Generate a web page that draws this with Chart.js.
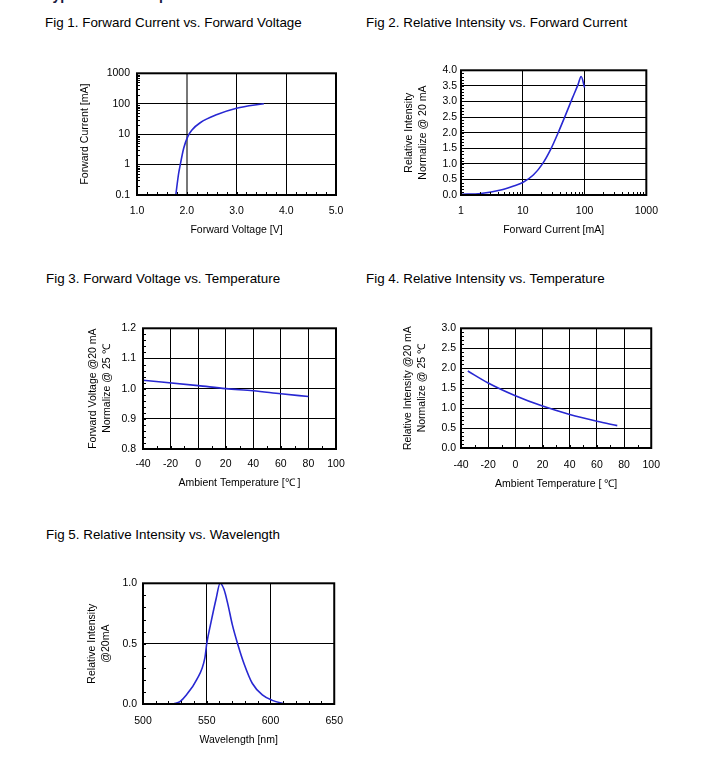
<html>
<head>
<style>
    body { margin: 0; background: #fff; font-family: Arial, "Liberation Sans", sans-serif; }
    .fig { position: absolute; font-size: 13.4px; line-height: 16px; color: #000; white-space: nowrap; }
    canvas { position: absolute; }
</style>
</head>

<body>
    <div class="fig" style="left:45px;top:-13px;font-weight:bold;font-size:14px;color:#1a1a40">Typical Electro-Optical Characteristics Curves</div>
    <div class="fig" style="left:45px;top:15px">Fig 1. Forward Current vs. Forward Voltage</div>
    <div class="fig" style="left:366px;top:15px">Fig 2. Relative Intensity vs. Forward Current</div>
    <div class="fig" style="left:46px;top:271px">Fig 3. Forward Voltage vs. Temperature</div>
    <div class="fig" style="left:366px;top:271px">Fig 4. Relative Intensity vs. Temperature</div>
    <div class="fig" style="left:46px;top:527px">Fig 5. Relative Intensity vs. Wavelength</div>

    <canvas id="c1"></canvas>
    <canvas id="c2"></canvas>
    <canvas id="c3"></canvas>
    <canvas id="c4"></canvas>
    <canvas id="c5"></canvas>

    <script src="https://cdn.jsdelivr.net/npm/chart.js"></script>
    <script>
        // Fig 1: forward current vs forward voltage
        const fig1Voltage = [1.78, 1.835, 1.87, 1.94, 2.02, 2.10, 2.27, 2.61, 3.0, 3.55];
        const fig1Current = [0.1, 0.49, 1, 3.5, 8.3, 13.5, 23.7, 44, 71, 100];
        const fig1XTicks = [1, 2, 3, 4, 5];
        const fig1XLabels = ['1.0', '2.0', '3.0', '4.0', '5.0'];
        const fig1YTicks = [0.1, 1, 10, 100, 1000];
        const fig1YLabels = ['0.1', '1', '10', '100', '1000'];

        // Fig 2: relative intensity vs forward current
        const fig2Current = [1, 2.1, 4.4, 7.1, 10, 14.8, 20.7, 28.7, 38, 48.4, 63, 78.7, 88, 100];
        const fig2Intensity = [0.02, 0.05, 0.16, 0.29, 0.40, 0.64, 0.99, 1.49, 2.03, 2.53, 3.09, 3.55, 3.8, 3.45];
        const fig2XTicks = [1, 10, 100, 1000];
        const fig2XLabels = ['1', '10', '100', '1000'];
        const fig2YTicks = [0, 0.5, 1, 1.5, 2, 2.5, 3, 3.5, 4];
        const fig2YLabels = ['0.0', '0.5', '1.0', '1.5', '2.0', '2.5', '3.0', '3.5', '4.0'];

        // Fig 3: forward voltage vs temperature
        const fig3Temp = [-40, 0, 20, 40, 60, 80];
        const fig3Voltage = [1.028, 1.01, 1.0, 0.993, 0.983, 0.974];
        const fig3XTicks = [-40, -20, 0, 20, 40, 60, 80, 100];
        const fig3XLabels = ['-40', '-20', '0', '20', '40', '60', '80', '100'];
        const fig3YTicks = [0.8, 0.9, 1.0, 1.1, 1.2];
        const fig3YLabels = ['0.8', '0.9', '1.0', '1.1', '1.2'];

        // Fig 4: relative intensity vs temperature
        const fig4Temp = [-35, -20, 0, 20, 40, 60, 75];
        const fig4Intensity = [1.93, 1.63, 1.31, 1.05, 0.84, 0.67, 0.56];
        const fig4XTicks = [-40, -20, 0, 20, 40, 60, 80, 100];
        const fig4XLabels = ['-40', '-20', '0', '20', '40', '60', '80', '100'];
        const fig4YTicks = [0, 0.5, 1, 1.5, 2, 2.5, 3];
        const fig4YLabels = ['0.0', '0.5', '1.0', '1.5', '2.0', '2.5', '3.0'];

        // Fig 5: relative intensity vs wavelength
        const fig5Wave = [524, 529, 534, 542, 548.5, 550, 553.4, 557.3, 560.5, 563.5, 566.5, 570, 574.2, 579.4, 585.8, 593.6, 601.4, 611.7];
        const fig5Intensity = [0, 0.02, 0.075, 0.2, 0.38, 0.5, 0.68, 0.87, 1.0, 0.95, 0.83, 0.66, 0.5, 0.33, 0.17, 0.075, 0.03, 0];
        const fig5XTicks = [500, 550, 600, 650];
        const fig5XLabels = ['500', '550', '600', '650'];
        const fig5YTicks = [0, 0.5, 1];
        const fig5YLabels = ['0.0', '0.5', '1.0'];

        const FONT = 'Arial, "Liberation Sans", sans-serif';
        const LINE = '#2828d2';

        function pts(xs, ys) {
            return xs.map((x, i) => ({ x: x, y: ys[i] }));
        }

        // minor tick positions (axis decoration only)
        function steps(from, to, step) {
            const out = [];
            for (let v = from; v <= to + 1e-9; v += step) out.push(+v.toFixed(4));
            return out;
        }
        function logSteps(decades) {
            const out = [];
            decades.forEach(d => { for (let k = 2; k < 10; k++) out.push(d * k); });
            return out;
        }

        // inward minor ticks + heavy frame round the plot
        const frame = {
            id: 'frame',
            afterDraw(chart, args, opts) {
                const { ctx, chartArea: a, scales } = chart;
                ctx.save();
                ctx.strokeStyle = '#000';
                ctx.lineWidth = 1;
                ctx.beginPath();
                (opts.minorX || []).forEach(v => {
                    const px = Math.round(scales.x.getPixelForValue(v)) + 0.5;
                    ctx.moveTo(px, a.bottom);
                    ctx.lineTo(px, a.bottom - 3);
                });
                (opts.minorY || []).forEach(v => {
                    const py = Math.round(scales.y.getPixelForValue(v)) + 0.5;
                    ctx.moveTo(a.left, py);
                    ctx.lineTo(a.left + 3, py);
                });
                ctx.stroke();
                ctx.lineWidth = 2;
                ctx.strokeRect(a.left, a.top, a.right - a.left, a.bottom - a.top);
                ctx.restore();
            }
        };

        const YW = 70, XH = 48, PT = 10, PR = 18;

        function makeChart(id, box, o) {
            const cv = document.getElementById(id);
            cv.width = YW + box.w + PR;
            cv.height = PT + box.h + XH;
            cv.style.left = (box.l - YW) + 'px';
            cv.style.top = (box.t - PT) + 'px';

            const tickFont = { family: FONT, size: 10.5 };
            const titleFont = { family: FONT, size: 10.5, lineHeight: 1.35 };

            return new Chart(cv, {
                type: 'scatter',
                data: {
                    datasets: [{
                        data: pts(o.xs, o.ys),
                        showLine: true,
                        borderColor: LINE,
                        borderWidth: 1.6,
                        pointRadius: 0,
                        cubicInterpolationMode: 'monotone'
                    }]
                },
                options: {
                    responsive: false,
                    animation: false,
                    devicePixelRatio: 1,
                    layout: { padding: { top: PT, right: PR, left: 0, bottom: 0 } },
                    plugins: {
                        legend: { display: false },
                        tooltip: { enabled: false },
                        frame: { minorX: o.minorX, minorY: o.minorY }
                    },
                    scales: {
                        x: {
                            type: o.xType || 'linear',
                            min: o.xTicks[0],
                            max: o.xTicks[o.xTicks.length - 1],
                            afterFit: s => { s.height = XH; },
                            afterBuildTicks: s => { s.ticks = o.xTicks.map(v => ({ value: v })); },
                            ticks: {
                                callback: (v, i) => o.xLabels[i],
                                padding: o.xPad,
                                font: tickFont,
                                color: '#000',
                                autoSkip: false,
                                maxRotation: 0
                            },
                            grid: {
                                drawTicks: false,
                                color: c => (o.greyX !== undefined && c.tick && c.tick.value === o.greyX) ? '#777' : '#000',
                                lineWidth: c => (o.greyX !== undefined && c.tick && c.tick.value === o.greyX) ? 2 : 1
                            },
                            border: { display: false },
                            title: {
                                display: true,
                                text: o.xTitle,
                                font: titleFont,
                                color: '#000',
                                padding: { top: 0, bottom: o.xTitlePad }
                            }
                        },
                        y: {
                            type: o.yType || 'linear',
                            min: o.yTicks[0],
                            max: o.yTicks[o.yTicks.length - 1],
                            afterFit: s => { s.width = YW; },
                            afterBuildTicks: s => { s.ticks = o.yTicks.map(v => ({ value: v })); },
                            ticks: {
                                callback: (v, i) => o.yLabels[i],
                                padding: o.yPad,
                                font: tickFont,
                                color: '#000',
                                autoSkip: false
                            },
                            grid: { drawTicks: false, color: '#000', lineWidth: 1 },
                            border: { display: false },
                            title: {
                                display: true,
                                text: o.yTitle,
                                font: titleFont,
                                color: '#000',
                                padding: { top: o.yTitlePad, bottom: 0 }
                            }
                        }
                    }
                },
                plugins: [frame]
            });
        }

        makeChart('c1', { l: 137, t: 70, w: 199, h: 125 }, {
            xs: fig1Voltage, ys: fig1Current,
            xTicks: fig1XTicks, xLabels: fig1XLabels,
            yTicks: fig1YTicks, yLabels: fig1YLabels, yType: 'logarithmic',
            xTitle: 'Forward Voltage [V]', yTitle: 'Forward Current [mA]',
            xPad: 10, yPad: 7, xTitlePad: 6, yTitlePad: 11, greyX: 2,
            minorX: steps(1, 5, 0.2), minorY: logSteps([0.1, 1, 10, 100])
        });

        makeChart('c2', { l: 461, t: 70, w: 189, h: 125 }, {
            xs: fig2Current, ys: fig2Intensity,
            xTicks: fig2XTicks, xLabels: fig2XLabels, xType: 'logarithmic',
            yTicks: fig2YTicks, yLabels: fig2YLabels,
            xTitle: 'Forward Current [mA]', yTitle: ['Relative Intensity', 'Normalize @ 20 mA'],
            xPad: 10, yPad: 4, xTitlePad: 6, yTitlePad: 11,
            minorX: logSteps([1, 10, 100]), minorY: steps(0, 4, 0.1)
        });

        makeChart('c3', { l: 143, t: 325, w: 193, h: 124 }, {
            xs: fig3Temp, ys: fig3Voltage,
            xTicks: fig3XTicks, xLabels: fig3XLabels,
            yTicks: fig3YTicks, yLabels: fig3YLabels,
            xTitle: 'Ambient Temperature [℃ ]', yTitle: ['Forward Voltage @20 mA', 'Normalize @ 25 ℃'],
            xPad: 9, yPad: 7, xTitlePad: 7, yTitlePad: 13,
            minorX: steps(-40, 100, 10), minorY: steps(0.8, 1.2, 0.02)
        });

        makeChart('c4', { l: 461, t: 327, w: 192, h: 121 }, {
            xs: fig4Temp, ys: fig4Intensity,
            xTicks: fig4XTicks, xLabels: fig4XLabels,
            yTicks: fig4YTicks, yLabels: fig4YLabels,
            xTitle: 'Ambient Temperature [ ℃]', yTitle: ['Relative Intensity @20 mA', 'Normalize @ 25 ℃'],
            xPad: 11, yPad: 5, xTitlePad: 5, yTitlePad: 10,
            minorX: steps(-40, 100, 10), minorY: steps(0, 3, 0.1)
        });

        makeChart('c5', { l: 143, t: 581, w: 193, h: 123 }, {
            xs: fig5Wave, ys: fig5Intensity,
            xTicks: fig5XTicks, xLabels: fig5XLabels,
            yTicks: fig5YTicks, yLabels: fig5YLabels,
            xTitle: 'Wavelength [nm]', yTitle: ['Relative Intensity', '@20mA'],
            xPad: 11, yPad: 6, xTitlePad: 5, yTitlePad: 12,
            minorX: steps(500, 650, 10), minorY: steps(0, 1, 0.1)
        });
    </script>
</body>

</html>
